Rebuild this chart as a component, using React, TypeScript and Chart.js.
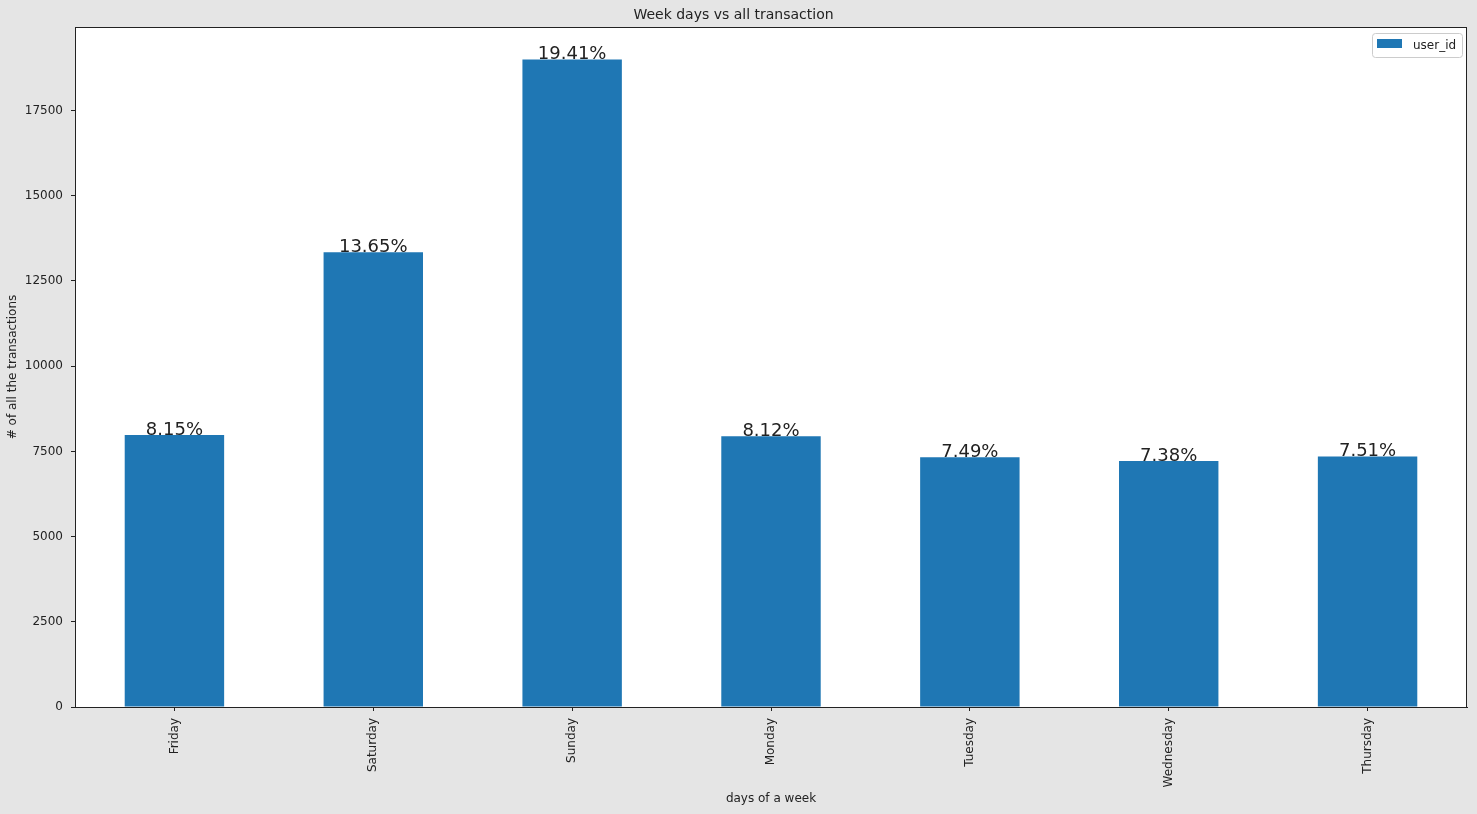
import { useEffect, useRef } from "react"
import { Chart, registerables } from "chart.js"

Chart.register(...registerables)

const days = ["Friday", "Saturday", "Sunday", "Monday", "Tuesday", "Wednesday", "Thursday"]
const transactions = [7980, 13345, 19000, 7945, 7330, 7220, 7350]
const shareLabels = ["8.15%", "13.65%", "19.41%", "8.12%", "7.49%", "7.38%", "7.51%"]
const yTickValues = [0, 2500, 5000, 7500, 10000, 12500, 15000, 17500]
const seriesName = "user_id"

const FONT = "'DejaVu Sans', sans-serif"
const INK = "#222"
const BAR = "#1f77b4"

const plotBackground = {
  id: "plotBackground",
  beforeDraw(chart: any) {
    const { ctx, chartArea } = chart
    ctx.save()
    ctx.fillStyle = "#fff"
    ctx.fillRect(chartArea.left, chartArea.top, chartArea.right - chartArea.left, chartArea.bottom - chartArea.top)
    ctx.restore()
  },
  afterDraw(chart: any) {
    const { ctx, chartArea } = chart
    ctx.save()
    ctx.strokeStyle = INK
    ctx.lineWidth = 1
    ctx.strokeRect(chartArea.left + 0.5, chartArea.top + 0.5, chartArea.right - chartArea.left - 1, chartArea.bottom - chartArea.top)
    ctx.restore()
  },
}

// percentage text sitting on each bar
const barLabels = {
  id: "barLabels",
  afterDatasetsDraw(chart: any) {
    const { ctx } = chart
    const meta = chart.getDatasetMeta(0)
    ctx.save()
    ctx.font = `18px ${FONT}`
    ctx.fillStyle = INK
    ctx.textAlign = "center"
    ctx.textBaseline = "alphabetic"
    meta.data.forEach((bar: any, i: number) => {
      ctx.fillText(shareLabels[i], bar.x, bar.y)
    })
    ctx.restore()
  },
}

// matplotlib-like legend box in the upper right corner
const legendBox = {
  id: "legendBox",
  afterDraw(chart: any) {
    const { ctx, chartArea } = chart
    const w = 90
    const h = 24
    const x = chartArea.right - w - 5
    const y = chartArea.top + 6
    ctx.save()
    ctx.fillStyle = "rgba(255,255,255,0.8)"
    ctx.strokeStyle = "#ccc"
    ctx.lineWidth = 1
    ctx.beginPath()
    ctx.roundRect(x + 0.5, y + 0.5, w, h, 3)
    ctx.fill()
    ctx.stroke()
    ctx.fillStyle = BAR
    ctx.fillRect(x + 5, y + 6, 25, 9)
    ctx.fillStyle = INK
    ctx.font = `12px ${FONT}`
    ctx.textBaseline = "middle"
    ctx.textAlign = "left"
    ctx.fillText(seriesName, x + 41, y + 13)
    ctx.restore()
  },
}

const App = () => {
  const canvasRef = useRef<HTMLCanvasElement | null>(null)

  useEffect(() => {
    if (!canvasRef.current) return

    const chart = new Chart(canvasRef.current, {
      type: "bar",
      data: {
        labels: days,
        datasets: [
          {
            label: seriesName,
            data: transactions,
            backgroundColor: BAR,
            borderWidth: 0,
            barPercentage: 0.5,
            categoryPercentage: 1,
          },
        ],
      },
      options: {
        animation: false,
        responsive: false,
        layout: { padding: { left: 0, right: 10, top: 0, bottom: 0 } },
        plugins: {
          legend: { display: false },
          tooltip: { enabled: false },
          title: {
            display: true,
            text: "Week days vs all transaction",
            color: INK,
            font: { family: FONT, size: 14, weight: "normal" },
            padding: { top: 6.5, bottom: 3.7 },
          },
        },
        scales: {
          x: {
            offset: true,
            grid: { display: true, offset: false, drawOnChartArea: false, drawTicks: true, tickLength: 4, color: INK },
            border: { display: true, color: INK },
            ticks: {
              color: INK,
              font: { family: FONT, size: 12 },
              minRotation: 90,
              maxRotation: 90,
              padding: 7,
            },
            title: {
              display: true,
              text: "days of a week",
              color: INK,
              font: { family: FONT, size: 12 },
              padding: { top: 0, bottom: 8 },
            },
            afterFit: (scale: any) => {
              scale.height = 107
            },
          },
          y: {
            min: 0,
            max: 19952,
            grid: { display: true, drawOnChartArea: false, drawTicks: true, tickLength: 4, color: INK },
            border: { display: true, color: INK },
            ticks: {
              color: INK,
              font: { family: FONT, size: 12 },
              stepSize: 2500,
              includeBounds: false,
              padding: 8,
              callback: (v: any) => String(v),
            },
            afterBuildTicks: (scale: any) => {
              scale.ticks = yTickValues.map((v) => ({ value: v }))
            },
            title: {
              display: true,
              text: "# of all the transactions",
              color: INK,
              font: { family: FONT, size: 12 },
              padding: { top: 6, bottom: 0 },
            },
            afterFit: (scale: any) => {
              scale.width = 75
            },
          },
        },
      },
      plugins: [plotBackground, barLabels, legendBox],
    })

    return () => {
      chart.destroy()
    }
  }, [])

  return (
    <div style={{ position: "fixed", left: 0, top: 0, width: 1477, height: 814, background: "#e5e5e5" }}>
      <canvas ref={canvasRef} width={1477} height={814} />
    </div>
  )
}

export default App
